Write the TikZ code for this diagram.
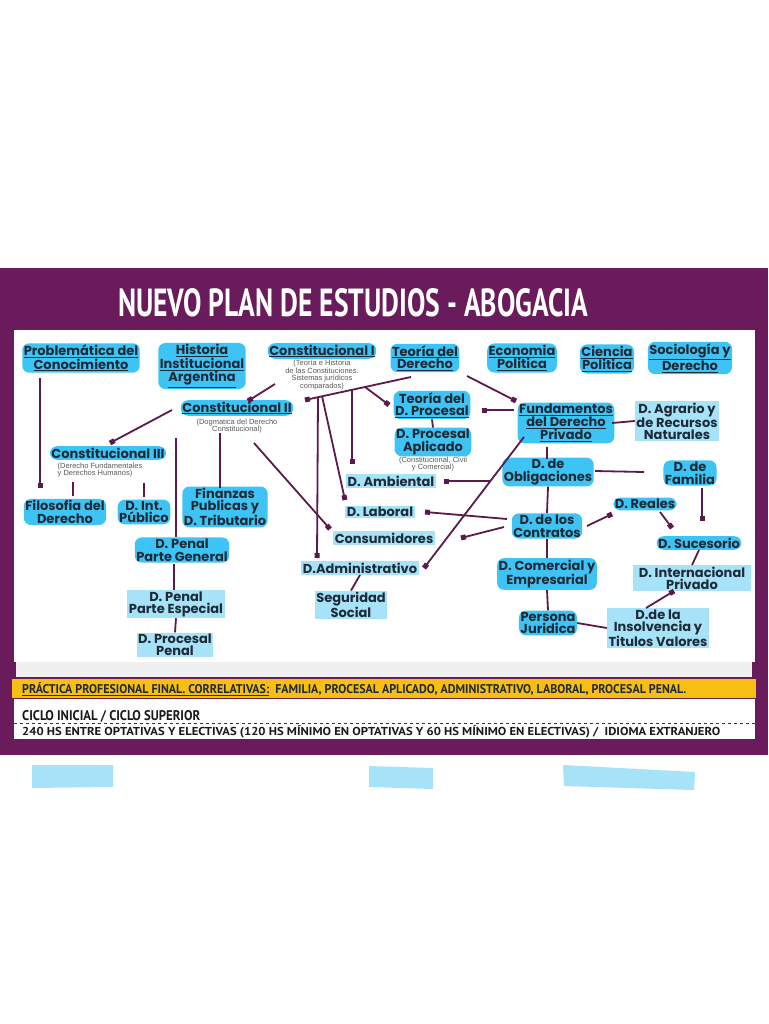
\documentclass[tikz,border=0pt]{standalone}
\usepackage{fontspec}
\setmainfont{Poppins}
\newfontfamily\titlef{PT Sans}
\newfontfamily\notef{Liberation Sans}
\usetikzlibrary{arrows.meta,calc}
\definecolor{purp}{HTML}{6A1B5C}
\definecolor{hl}{HTML}{3EC4F4}
\definecolor{hlt}{HTML}{A6E3F8}
\definecolor{txt}{HTML}{1E2A38}
\definecolor{ln}{HTML}{5C1A4C}
\definecolor{yel}{HTML}{F7BE14}
\tikzset{
 hb/.style={fill=hl,rounded corners=7pt,inner sep=1.5pt,align=center,text=txt,font=\fontsize{13}{12.5}\selectfont\bfseries},
 lb/.style={fill=hlt,inner sep=1.5pt,align=center,text=txt,font=\fontsize{13}{12}\selectfont\bfseries},
 note/.style={align=center,text=black!65,inner sep=0pt,font=\notef\fontsize{7.5}{7.5}\selectfont},
 con/.style={draw=ln,line width=1.8pt,-{Square[length=5pt,width=5pt]}},
 tick/.style={draw=ln,line width=1.8pt},
}
\begin{document}
\begin{tikzpicture}[x=1pt,y=-1pt]
\useasboundingbox (0,0) rectangle (768,1024);
\fill[white] (0,0) rectangle (768,1024);
\fill[purp] (0,268) rectangle (768,755);
\fill[white] (14,330) rectangle (755,662);
\fill[black!6] (16,662) rectangle (752,677);
\fill[yel] (12,679) rectangle (756,698);
\fill[white] (14,699) rectangle (755,739);
\draw[black!80,dashed,line width=0.6pt] (14,723.5) -- (755,723.5);
\node[inner sep=0pt,white] (title) at (353,303) {\resizebox{470pt}{28pt}{\titlef\bfseries NUEVO PLAN DE ESTUDIOS - ABOGACIA}};
\node[inner sep=0pt,anchor=west,text=txt] (prac) at (22,689) {\resizebox{664pt}{11pt}{\titlef\bfseries\underline{PRÁCTICA PROFESIONAL FINAL. CORRELATIVAS:}\ \ FAMILIA, PROCESAL APLICADO, ADMINISTRATIVO, LABORAL, PROCESAL PENAL.}};
\node[inner sep=0pt,anchor=west,text=black!90] (ciclo) at (22,716) {\resizebox{178pt}{10pt}{\titlef\bfseries CICLO INICIAL / CICLO SUPERIOR}};
\node[inner sep=0pt,anchor=west,text=black!90] (hs) at (22,732) {\resizebox{698pt}{10pt}{\titlef\bfseries 240 HS ENTRE OPTATIVAS Y ELECTIVAS (120 HS MÍNIMO EN OPTATIVAS Y 60 HS MÍNIMO EN ELECTIVAS) / \ IDIOMA EXTRANJERO}};
\fill[hlt] (32,765) -- (113,765) -- (113,787) -- (32,788) -- cycle;
\fill[hlt] (369,766) -- (433,768) -- (433,789) -- (369,787) -- cycle;
\fill[hlt] (563,765) -- (695,772) -- (694,790) -- (564,786) -- cycle;
% nodes
\node[hb] (prob) at (81,358) {\underline{Problemática del}\\\underline{Conocimiento}};
\node[hb] (hist) at (202,366) {\underline{Historia}\\\underline{Institucional}\\\underline{Argentina}};
\node[hb] (c1) at (322,351) {\underline{Constitucional I}};
\node[note] (c1n) at (322,375) {(Teoría e Historia\\de las Constituciones.\\Sistemas jurídicos\\comparados)};
\node[hb] (teo) at (425,358) {\underline{Teoría del}\\\underline{Derecho}};
\node[hb] (eco) at (522,358) {\underline{Economia}\\\underline{Politica}};
\node[hb] (cie) at (607,359) {\underline{Ciencia}\\\underline{Politica}};
\node[hb] (soc) at (690,358) {\underline{Sociología y}\\\underline{Derecho}};
\node[hb] (c2) at (237,408) {\underline{Constitucional II}};
\node[note] (c2n) at (237,426) {(Dogmatica del Derecho\\Constitucional)};
\node[hb] (tdp) at (432,405) {Teoría del\\\underline{D. Procesal}};
\node[hb] (fdp) at (566,423) {\underline{Fundamentos}\\\underline{del Derecho}\\\underline{Privado}};
\node[lb] (agr) at (677,421) {D. Agrario y\\de Recursos\\Naturales};
\node[hb] (dpa) at (433,442) {D. Procesal\\Aplicado};
\node[note] (dpan) at (433,464) {(Constitucional, Civil\\y Comercial)};
\node[hb] (c3) at (108,453) {Constitucional III};
\node[note,align=left] (c3n) at (100,470) {(Derecho Fundamentales\\y Derechos Humanos)};
\node[hb] (obl) at (548,472) {D. de\\Obligaciones};
\node[hb] (fam) at (690,473) {D. de\\Familia};
\node[lb] (amb) at (391,481) {D. Ambiental};
\node[hb] (filo) at (65,512) {Filosofia del\\Derecho};
\node[hb] (dip) at (144,512) {D. Int.\\Público};
\node[hb] (fin) at (225,507) {Finanzas\\Publicas y\\D. Tributario};
\node[lb] (lab) at (380,512) {D. Laboral};
\node[hb] (rea) at (645,504) {D. Reales};
\node[hb] (con) at (547,526) {D. de los\\Contratos};
\node[hb] (dpg) at (182,550) {D. Penal\\Parte General};
\node[lb] (cons) at (384,538) {Consumidores};
\node[hb] (suc) at (699,543) {D. Sucesorio};
\node[lb] (adm) at (360,568) {D.Administrativo};
\node[hb] (com) at (547,574) {D. Comercial y\\Empresarial};
\node[lb,minimum width=118pt] (dipr) at (692,578) {D. Internacional\\Privado};
\node[lb] (dpe) at (176,604) {D. Penal\\Parte Especial};
\node[lb] (seg) at (351,605) {Seguridad\\Social};
\node[hb] (per) at (548,623) {Persona\\Juridica};
\node[lb] (ins) at (658,628) {D.de la\\Insolvencia y\\Titulos Valores};
\node[lb] (dpp) at (175,645) {D. Procesal\\Penal};
% branch coordinates
\coordinate (t0) at (411,377);
\coordinate (b1) at (318,397);
\coordinate (b2) at (322,396);
\coordinate (b3) at (352,390);
\coordinate (b4) at (365,387);
\coordinate (f0) at (524,437);
\coordinate (b5) at (490,481);
% connectors
\draw[con] ($(prob)+(-41,20)$) -- ($(filo)+(-25,-24)$);
\draw[con] ($(c1n)+(-47,9)$) -- ($(c2)+(11,-7)$);
\draw[con] ($(c2)+(-65,2)$) -- ($(c3)+(2,-10)$);
\draw[tick] ($(c3n)+(-27,12)$) -- ($(filo)+(8,-16)$);
\draw[tick] ($(c3n)+(44,13)$) -- ($(dip)+(0,-15)$);
\draw[tick] ($(c2n)+(-17,7)$) -- ($(fin)+(-5,-19)$);
\draw[tick] ($(c2n)+(-61,12)$) -- ($(dpg)+(-6,-13)$);
\draw[con] ($(c2n)+(17,17)$) -- ($(cons)+(-54,-9)$);
\draw[con] (t0) -- ($(c2)+(68,-8)$);
\draw[tick] ($(teo)+(-14,19)$) -- (t0);
\draw[con] (b1) -- ($(adm)+(-43,-10)$);
\draw[con] (b2) -- ($(lab)+(-35,-12)$);
\draw[con] (b3) -- ($(amb)+(-39,-17)$);
\draw[con] (b4) -- ($(tdp)+(-43,0)$);
\draw[con] ($(teo)+(42,18)$) -- ($(fdp)+(-50,-22)$);
\draw[con] ($(fdp)+(-52,-13)$) -- ($(tdp)+(50,5)$);
\draw[tick] (tdp.south) -- (dpa.north);
\draw[tick] ($(fdp)+(46,0)$) -- (agr.west);
\draw[tick] ($(fdp)+(-19,24)$) -- ($(obl)+(-1,-13)$);
\draw[con] (f0) -- ($(adm)+(64,0)$);
\draw[con] (b5) -- ($(amb)+(53,0)$);
\draw[tick] ($(obl)+(47,-1)$) -- ($(fam)+(-46,-1)$);
\draw[tick] (obl.south) -- (con.north);
\draw[con] ($(con)+(-40,-7)$) -- ($(lab)+(45,0)$);
\draw[con] ($(con)+(-43,1)$) -- ($(cons)+(77,0)$);
\draw[con] ($(con)+(40,0)$) -- ($(rea)+(-33,10)$);
\draw[con] ($(rea)+(15,8)$) -- ($(suc)+(-27,-15)$);
\draw[con] ($(fam)+(12,15)$) -- ($(suc)+(3,-22)$);
\draw[tick] (suc.south) -- (dipr.north);
\draw[tick] (con.south) -- (com.north);
\draw[tick] (com.south) -- (per.north);
\draw[tick] ($(dpg)+(-8,14)$) -- ($(dpe)+(-2,-14)$);
\draw[tick] (dpe.south) -- (dpp.north);
\draw[tick] (adm.south) -- (seg.north);
\draw[tick] (per.east) -- (ins.west);
\draw[con] ($(ins)+(-12,-20)$) -- ($(dipr)+(-18,13)$);
\end{tikzpicture}
\end{document}
